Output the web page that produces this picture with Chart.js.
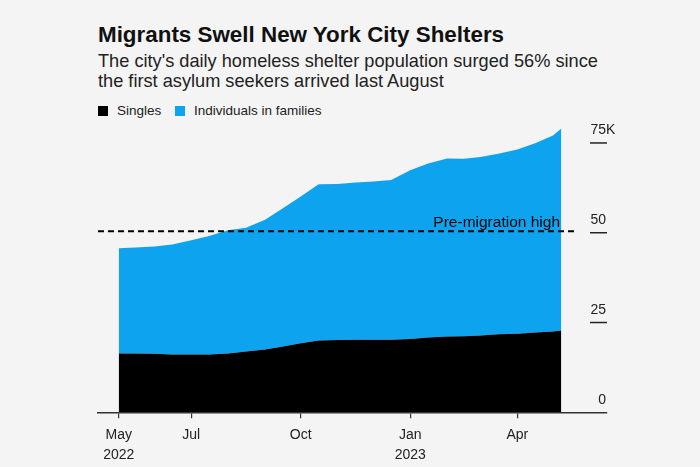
<!DOCTYPE html>
<html>
<head>
<meta charset="utf-8">
<script src="https://cdn.jsdelivr.net/npm/chart.js@4"></script>
<style>
  html, body { margin: 0; padding: 0; background: #f4f4f4; }
  body { width: 700px; height: 467px; position: relative; overflow: hidden;
         font-family: "Liberation Sans", Arial, sans-serif; color: #111; }
  #title { position: absolute; left: 98px; top: 22.4px; font-size: 22.4px; line-height: 26px; font-weight: bold; }
  #subtitle { position: absolute; left: 98px; top: 50.8px; font-size: 18.2px; line-height: 20.6px; width: 520px; color: #222; }
  #legend { position: absolute; left: 98px; top: 102.5px; font-size: 13.5px; line-height: 16px; color: #222; }
  #legend span.box { display: inline-block; width: 10px; height: 10px; margin-right: 9px; vertical-align: -1px; }
  #legend span.item { margin-right: 10px; }
  canvas { position: absolute; left: 0; top: 0; }
</style>
</head>
<body>
<div id="title">Migrants Swell New York City Shelters</div>
<div id="subtitle">The city's daily homeless shelter population surged 56% since the first asylum seekers arrived last August</div>
<div id="legend">
  <span class="item"><span class="box" style="background:#000"></span>Singles</span>
  <span class="item"><span class="box" style="background:#0ea3ef"></span>Individuals in families</span>
</div>
<canvas id="chart" width="700" height="467"></canvas>
<script>
// days since 1 May 2022, values in thousands of people
const days = [0, 14, 30, 45, 61, 76, 92, 107, 123, 138, 153, 168, 184, 199, 214, 229, 245, 260, 276, 290, 304, 319, 335, 350, 365, 372];
const singles = [16.4, 16.4, 16.3, 16.1, 16.1, 16.1, 16.4, 16.9, 17.5, 18.3, 19.2, 20.0, 20.1, 20.2, 20.2, 20.2, 20.4, 20.8, 21.1, 21.2, 21.4, 21.7, 21.9, 22.2, 22.5, 22.8];
const families = [29.3, 29.5, 29.9, 30.6, 31.8, 33.0, 34.3, 34.5, 36.1, 38.5, 40.9, 43.5, 43.5, 43.8, 44.1, 44.5, 47.0, 48.5, 49.6, 49.4, 49.7, 50.3, 51.3, 52.7, 54.6, 56.2];

const tickDays = [0, 61, 153, 245, 335];
const tickMonths = ["May", "Jul", "Oct", "Jan", "Apr"];
const tickYears = ["2022", "", "", "2023", ""];
const yTicks = [0, 25, 50, 75];
const yLabels = ["0", "25", "50", "75"];
const preMigrationHigh = 50.4;

const FONT = "Liberation Sans, Arial, sans-serif";

const overlay = {
  id: "overlay",
  afterDatasetsDraw(chart) {
    const { ctx, chartArea, scales } = chart;
    const y = scales.y;
    ctx.save();
    // pre-migration dashed line
    const yp = y.getPixelForValue(preMigrationHigh);
    ctx.strokeStyle = "#000";
    ctx.lineWidth = 2;
    ctx.setLineDash([6, 4]);
    ctx.beginPath();
    ctx.moveTo(chartArea.left, yp);
    ctx.lineTo(chartArea.right - 29, yp);
    ctx.stroke();
    ctx.setLineDash([]);
    ctx.fillStyle = "#000";
    ctx.font = "15.5px " + FONT;
    ctx.textAlign = "right";
    ctx.textBaseline = "alphabetic";
    ctx.fillText("Pre-migration high", chartArea.right - 47, yp - 4);

    // right-hand value axis
    ctx.font = "14px " + FONT;
    ctx.fillStyle = "#222";
    ctx.strokeStyle = "#222";
    ctx.lineWidth = 1.5;
    yTicks.forEach((v, i) => {
      const p = y.getPixelForValue(v);
      if (v !== 0) {
        ctx.beginPath();
        ctx.moveTo(chartArea.right - 17, p);
        ctx.lineTo(chartArea.right, p);
        ctx.stroke();
      }
      ctx.textAlign = "right";
      ctx.fillText(yLabels[i], chartArea.right - 1, p - 8.5);
      if (i === yTicks.length - 1) {
        ctx.textAlign = "left";
        ctx.fillText("K", chartArea.right - 1, p - 8.5);
      }
    });
    ctx.restore();
  }
};

new Chart(document.getElementById("chart"), {
  type: "line",
  data: {
    datasets: [
      {
        label: "Singles",
        data: days.map((d, i) => ({ x: d, y: singles[i] })),
        backgroundColor: "#000",
        borderWidth: 0,
        pointRadius: 0,
        fill: "origin"
      },
      {
        label: "Individuals in families",
        data: days.map((d, i) => ({ x: d, y: families[i] })),
        backgroundColor: "#0ea3ef",
        borderWidth: 0,
        pointRadius: 0,
        fill: "-1"
      }
    ]
  },
  plugins: [overlay],
  options: {
    responsive: false,
    animation: false,
    layout: { padding: { left: 98, right: 93, top: 125, bottom: 0 } },
    plugins: { legend: { display: false }, tooltip: { enabled: false } },
    scales: {
      x: {
        type: "linear",
        min: -17.4,
        max: 410.4,
        afterBuildTicks: (s) => { s.ticks = tickDays.map((v) => ({ value: v })); },
        afterFit: (s) => { s.height = 54.7; },
        ticks: {
          autoSkip: false,
          maxRotation: 0,
          padding: 6.5,
          color: "#222",
          font: { family: FONT, size: 14, lineHeight: 1.43 },
          callback: (v, i) => [tickMonths[i], tickYears[i]]
        },
        grid: { drawOnChartArea: false, drawTicks: true, tickLength: 6, color: "#333", lineWidth: 1.2 },
        border: { display: true, color: "#333", width: 1.5 }
      },
      y: {
        display: false,
        stacked: true,
        min: 0,
        max: 80
      }
    }
  }
});
</script>
</body>
</html>
